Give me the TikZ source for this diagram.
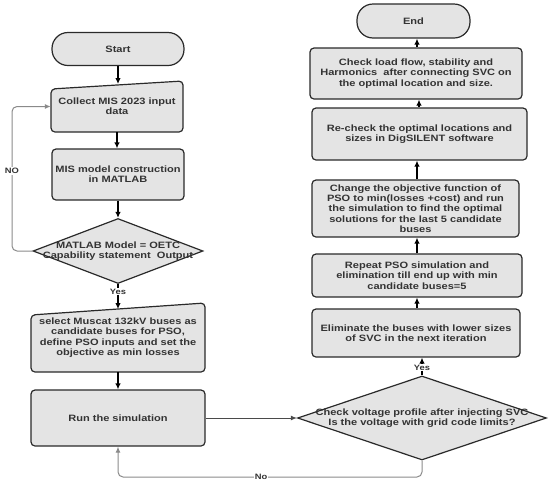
\documentclass[tikz,border=0pt]{standalone}
\usepackage{fontspec}
\setmainfont[FakeStretch=1.2]{Liberation Sans}
\usetikzlibrary{arrows.meta,shapes.geometric}
\definecolor{boxfill}{HTML}{E4E4E4}
\definecolor{boxdraw}{HTML}{2A2A2A}
\definecolor{txt}{HTML}{333333}
\definecolor{loopgray}{HTML}{8A8A8A}
\tikzset{
  lbl/.style={font=\fontsize{9.2}{10.3}\selectfont\bfseries, text=txt, align=center},
  procbox/.style={draw=boxdraw, fill=boxfill, line width=1.2pt, rounded corners=4pt, inner sep=0pt, lbl},
  term/.style={draw=boxdraw, fill=boxfill, line width=1.2pt, rounded corners=16pt, inner sep=0pt, lbl},
  decis/.style={diamond, draw=boxdraw, fill=boxfill, line width=1.2pt, inner sep=0pt},
  manual/.style={draw=boxdraw, fill=boxfill, line width=1.2pt, rounded corners=4pt},
  flow/.style={draw=black, line width=1.3pt, -{Latex[length=6pt,width=5.5pt]}},
  sideflow/.style={draw=boxdraw!85, line width=1pt, -{Latex[length=6pt,width=5pt]}},
  loopline/.style={draw=loopgray, line width=1pt, rounded corners=5pt, -{Latex[length=6pt,width=5pt]}},
  small/.style={font=\fontsize{7.8}{9}\selectfont\bfseries, text=txt, fill=white, inner sep=1pt}
}
\begin{document}
\begin{tikzpicture}[x=1pt,y=-1pt]
\useasboundingbox (0,0) rectangle (550,483);
% manual-input shapes (drawn first, text nodes on top)
\draw[manual] (51,89) -- (183,81) -- (183,132) -- (51,132) -- cycle;
\draw[manual] (31,315) -- (205,303) -- (205,372) -- (31,372) -- cycle;
% left column
\node[term, minimum width=132pt, minimum height=33pt] (start) at (118,49) {Start};
\node[lbl, minimum width=132pt, minimum height=51pt] (collect) at (117,106.5) {Collect MIS 2023 input\\data};
\node[procbox, minimum width=132pt, minimum height=51pt] (mis) at (118,174.5) {MIS model construction\\in MATLAB};
\node[decis, minimum width=170pt, minimum height=65pt] (d1) at (118,251) {};
\node[lbl] (d1t) at (118,251) {MATLAB Model = OETC\\Capability statement\ \ Output};
\node[lbl, minimum width=174pt, minimum height=69pt] (select) at (118,337.5) {select Muscat 132kV buses as\\candidate buses for PSO,\\define PSO inputs and set the\\objective as min losses};
\node[procbox, minimum width=174pt, minimum height=56pt] (run) at (118,418) {Run the simulation};
% right column
\node[decis, minimum width=249pt, minimum height=84pt] (d2) at (422,418) {};
\node[lbl] (d2t) at (422,418) {Check voltage profile after injecting SVC\\Is the voltage with grid code limits?};
\node[procbox, minimum width=208pt, minimum height=48pt] (elim) at (416,333) {Eliminate the buses with lower sizes\\of SVC in the next iteration};
\node[procbox, minimum width=210pt, minimum height=43pt] (rep) at (417,275.5) {Repeat PSO simulation and\\elimination till end up with min\\candidate buses=5};
\node[procbox, minimum width=207pt, minimum height=57pt] (change) at (415.5,208.5) {Change the objective function of\\PSO to min(losses +cost) and run\\the simulation to find the optimal\\solutions for the last 5 candidate\\buses};
\node[procbox, minimum width=215pt, minimum height=52pt] (recheck) at (419.5,134) {Re-check the optimal locations and\\sizes in DigSILENT software};
\node[procbox, minimum width=212pt, minimum height=51pt] (load) at (416,73.5) {Check load flow, stability and\\Harmonics\ \ after connecting SVC on\\the optimal location and size.};
\node[term, minimum width=113pt, minimum height=34pt] (endn) at (413.5,21) {End};
% connectors
\draw[flow] (start.south) -- (118,84);
\draw[flow] (117,132) -- (mis.north -| 117,0);
\draw[flow] (mis.south) -- (d1.north);
\draw[flow] (d1.south) -- (118,309) node[small, pos=0.3] {Yes};
\draw[flow] (select.south) -- (run.north);
\draw[sideflow] (run.east) -- (d2.west);
\draw[flow] (d2.north) -- (elim.south -| d2.north) node[small, pos=0.45] {Yes};
\draw[flow] (elim.north -| 417,0) -- (rep.south -| 417,0);
\draw[flow] (rep.north -| 417,0) -- (change.south -| 417,0);
\draw[flow] (change.north -| 417,0) -- (recheck.south -| 417,0);
\draw[flow] (recheck.north -| 419,0) -- (load.south -| 419,0);
\draw[flow] (load.north -| 417,0) -- (endn.south -| 417,0);
\draw[loopline] (d1.west) -- (12,251) -- (12,106.5) -- (collect.west);
\node[small] (no1) at (12,171) {NO};
\draw[loopline] (d2.south) -- (422,477) -- (118,477) -- (run.south);
\node[small] (no2) at (261,477) {No};
\end{tikzpicture}
\end{document}
